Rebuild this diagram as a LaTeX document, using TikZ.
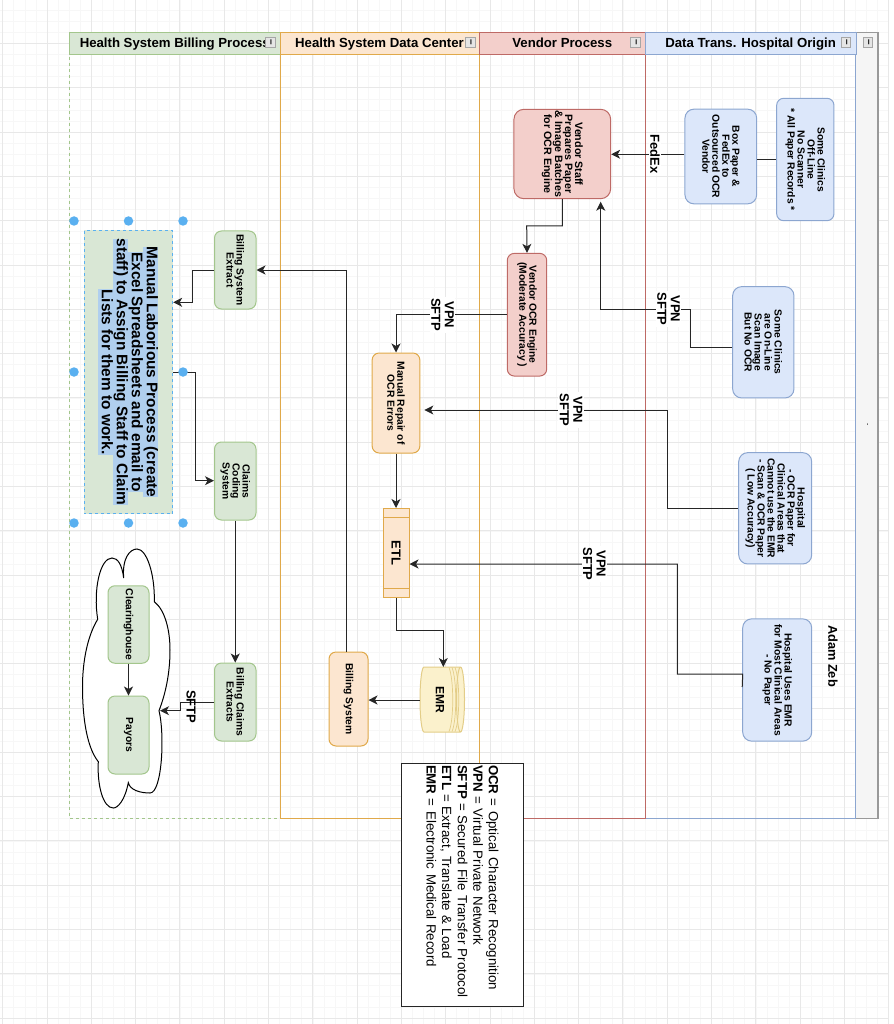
\documentclass[tikz,border=0pt]{standalone}
\usepackage{fontspec}
\setmainfont{Liberation Sans}
\usetikzlibrary{arrows.meta,shapes.geometric}

\definecolor{gfill}{HTML}{D9E7D5}
\definecolor{gline}{HTML}{A3C68C}
\definecolor{ofill}{HTML}{FCE6D0}
\definecolor{oline}{HTML}{E0A94A}
\definecolor{rfill}{HTML}{F3CFCB}
\definecolor{rline}{HTML}{BE6A66}
\definecolor{bfill}{HTML}{DCE7FA}
\definecolor{bline}{HTML}{8CA6D0}
\definecolor{yfill}{HTML}{FBF1CC}
\definecolor{yline}{HTML}{E3CD88}
\definecolor{hlight}{HTML}{B0CFEE}
\definecolor{handle}{HTML}{5AB0F0}

\newcommand{\hlline}[1]{\colorbox{hlight}{\rule[-3.4pt]{0pt}{15pt}#1}}

\tikzset{
  minorgrid/.style={draw=black!3,line width=0.6},
  majorgrid/.style={draw=black!9,line width=1},
  lanehead/.style={fill=#1,minimum height=21.6,text height=11,text depth=2,font=\fontsize{13.2}{13}\selectfont\bfseries,inner sep=0},
  flowbox/.style={draw,rotate=-90,rounded corners=7,line width=1,inner sep=0,align=center,font=\fontsize{10.3}{10}\selectfont\bfseries},
  gbox/.style={flowbox,draw=gline,fill=gfill},
  obox/.style={flowbox,draw=oline,fill=ofill},
  rbox/.style={flowbox,draw=rline,fill=rfill},
  bbox/.style={flowbox,draw=bline,fill=bfill},
  link/.style={draw=black!85,line width=1,-{Stealth[length=9,width=9,inset=2.5]}},
  plainlink/.style={draw=black!85,line width=1},
  lab/.style={rotate=-90,fill=white,inner sep=1.5,align=center,font=\fontsize{13}{13.5}\selectfont\bfseries},
  grip/.style={circle,fill=handle,minimum size=9.5,inner sep=0},
  fold/.style={rotate=-90,draw=black!35,fill=black!10,minimum size=9.5,inner sep=0,font=\fontsize{10}{10}\selectfont\bfseries},
}

\begin{document}
\begin{tikzpicture}[x=1pt,y=-1pt]
\useasboundingbox (0,0) rectangle (893,1024);

% grid
\foreach \i in {0,...,80} \draw[minorgrid] (2.7+\i*11.075,0) -- (2.7+\i*11.075,1024);
\foreach \i in {1,...,92} \draw[minorgrid] (0,-0.8+\i*11.075) -- (888,-0.8+\i*11.075);
\foreach \i in {0,...,20} \draw[majorgrid] (2.7+\i*44.3,0) -- (2.7+\i*44.3,1024);
\foreach \i in {1,...,23} \draw[majorgrid] (0,-0.8+\i*44.3) -- (888,-0.8+\i*44.3);

% lanes
\draw[draw=black!40,fill=black!4,line width=1.5] (855.7,32.7) rectangle (878,818.3);
\draw[gline,dashed,line width=1] (69.5,32.7) rectangle (280,818.3);
\draw[oline,line width=1] (280,54.3) -- (280,818.3) -- (479,818.3) -- (479,54.3);
\draw[rline,line width=1] (479,818.3) -- (645.5,818.3) -- (645.5,54.3);
\draw[bline,line width=1.5] (645.5,818.3) -- (855.7,818.3) -- (855.7,54.3);

\node[lanehead=gfill,draw=gline,minimum width=210.5,name=hbill] at (174.75,43.5) {Health System Billing Process};
\node[lanehead=ofill,draw=oline,minimum width=199,name=hdata] at (379.5,43.5) {Health System Data Center};
\node[lanehead=rfill,draw=rline,minimum width=166.5,name=hvend] at (562.25,43.5) {Vendor Process};
\node[lanehead=bfill,draw=bline,minimum width=210.2,name=htrans] at (750.6,43.5) {Data Trans. Hospital Origin};

% fold marks
\foreach \x/\n in {270/f1,470/f2,635.3/f3,845.7/f4,867.7/f5} \node[fold,name=\n] at (\x,42.3) {\textendash};
\node[rotate=-90,inner sep=0,font=\fontsize{7}{7}\selectfont,name=dash] at (867,425) {-};

% cloud
\draw[fill=white,draw=black,line width=1]
  (123.7,578) .. controls (122,558) and (130,549) .. (137,549)
  .. controls (147,549) and (155,575) .. (154.3,601.7)
  .. controls (165,610) and (170,630) .. (170,650)
  .. controls (170,675) and (165,695) .. (159,710.7)
  .. controls (165,735) and (162,793) .. (150,793)
  .. controls (140,793) and (130,790) .. (128.3,782.7)
  .. controls (125,800) and (118,808) .. (113.3,808)
  .. controls (103,808) and (97,785) .. (98.3,761.7)
  .. controls (85,745) and (82.5,710) .. (82.5,687)
  .. controls (82.5,660) and (88,635) .. (97.7,619.3)
  .. controls (93,590) and (100,558) .. (112,558)
  .. controls (118,558) and (122,565) .. (123.7,578);
\coordinate (cloudin) at (160,710.7);

% billing lane
\node[gbox,name=extract,minimum width=78,minimum height=41.5] at (235.25,270) {Billing System\\Extract};
\node[gbox,name=coding,minimum width=78,minimum height=41.5] at (235.25,481) {Claims\\Coding\\System};
\node[gbox,name=claims,minimum width=78,minimum height=41.5] at (235.25,702) {Billing Claims\\Extracts};
\node[gbox,name=clearing,minimum width=77.5,minimum height=41] at (128.5,624.5) {Clearinghouse};
\node[gbox,name=payors,minimum width=78,minimum height=41] at (128.5,735) {Payors};
\node[rotate=-90,draw=handle,dashed,fill=gfill,line width=0.8,minimum width=283,minimum height=88.7,inner sep=0,align=center,
  font=\fontsize{15.4}{15}\selectfont\bfseries,name=manual] at (128.4,372) {%
  \setlength{\fboxsep}{0pt}\hlline{Manual Laborious Process (create}\\
  \setlength{\fboxsep}{0pt}\hlline{Excel Spreadsheets and email to}\\
  \setlength{\fboxsep}{0pt}\hlline{staff) to Assign Billing Staff to Claim}\\
  \setlength{\fboxsep}{0pt}\hlline{Lists for them to work.}};

% data center lane
\node[obox,name=billsys,minimum width=94,minimum height=39] at (348.5,699) {Billing System};
\node[obox,name=repair,minimum width=100,minimum height=47.7] at (396,403) {Manual Repair of\\OCR Errors};
\node[obox,rounded corners=0,name=etl,minimum width=89,minimum height=26,font=\fontsize{13}{13}\selectfont\bfseries] at (396,553) {ETL};
\node[cylinder,draw=yline,fill=yfill,line width=1,aspect=.3,minimum height=44.5,minimum width=65,inner sep=0,font=\fontsize{12}{12}\selectfont\bfseries,name=emr] at (440,699.5) {\rotatebox{-90}{EMR}\hspace{9pt}};

% vendor lane
\node[rbox,rounded corners=10,name=staff,minimum width=89.4,minimum height=96.7,font=\fontsize{10.7}{10}\selectfont\bfseries] at (562.3,154) {Vendor Staff\\Prepares Paper\\\& Image Batches\\for OCR  Engine};
\node[rbox,name=ocr,minimum width=122.7,minimum height=39.4] at (527,314.7) {Vendor OCR Engine\\(Moderate Accuracy )};

% hospital lane
\node[bbox,rounded corners=9,name=boxpaper,minimum width=94.7,minimum height=71.7] at (720.8,156.5) {Box Paper \&\\FedEx to\\Outsourced OCR\\Vendor};
\node[bbox,name=offline,minimum width=122.4,minimum height=57.3] at (805.3,159.5) {Some Clinics\\Off-Line\\No Scanner\\* All Paper Records *};
\node[bbox,rounded corners=9,name=online,minimum width=111.3,minimum height=61.3] at (763.3,342.3) {Some Clinics\\are On-Line\\Scan Image\\But No OCR};
\node[bbox,rounded corners=9,name=hospocr,minimum width=111.3,minimum height=73] at (775.2,508.3) {Hospital\\- OCR Paper for\\Clinical Areas that\\Cannot use the EMR\\- Scan \& OCR Paper\\( Low Accuracy)};
\node[bbox,rounded corners=9,name=hospemr,minimum width=122.3,minimum height=69] at (777.2,680) {Hospital Uses  EMR\\for Most Clinical Areas\\- No Paper};
\node[rotate=-90,inner sep=0,font=\fontsize{12.8}{13}\selectfont\bfseries,name=adam] at (833,656) {Adam Zeb};

% connections
\draw[plainlink] (offline.south |- 0,159.3) -- (boxpaper.north |- 0,159.3);
\draw[link] (boxpaper.south |- 0,154.3) -- node[lab,pos=.4] {FedEx} (staff.north |- 0,154.3);
\draw[link] (staff.east) -- (562.3,226) -- (526.7,226) -- (ocr.west);
\draw[link,shorten >=2.5] (online.south |- 0,347.7) -- (690,347.7) -- (690,309) -- node[lab,pos=.24] {VPN\\SFTP} (600.7,309) -- (staff.east -| 600.7,0);
\draw[link] (ocr.south) -- node[lab,pos=.58] {VPN\\SFTP} (396,314.7 |- ocr.south) -- (repair.west);
\draw[link,shorten >=4] (hospocr.south) -- (667.3,508.3) -- (667.3,410) -- node[lab,pos=.39] {VPN\\SFTP} (repair.north |- 0,410);
\draw[link] (hospemr.south |- 0,687) -- (742.7,674) -- (677.3,674) -- (677.3,564) -- node[lab,pos=.31] {VPN\\SFTP} (etl.north |- 0,564);
\draw[link] (repair.east) -- (etl.west);
\draw[link] (etl.east) -- (396,630) -- (443.3,630) -- (443.3,667);
\draw[link] (emr.west |- 0,700) -- (billsys.north |- 0,700);
\draw[link] (billsys.west -| 346.3,0) -- (346.3,270) -- (extract.north);
\draw[link] (extract.south) -- (192.7,270) -- (192.7,302.3) -- (manual.north |- 0,302.3);
\draw[link] (manual.north) -- (195,372) -- (195,480.7) -- (coding.south |- 0,480.7);
\draw[link] (coding.east) -- (claims.west);
\draw[link] (clearing.east) -- (payors.west);
\draw[link] (claims.south) -- (180,702) -- (180,710.7) -- (cloudin);
\node[lab,fill=none,name=sftp] at (191,706.7) {SFTP};

% drum rings and etl bars
\foreach \xa in {449,452,455} \draw[yline,line width=0.7] (\xa,667.5) .. controls (\xa+5,680) and (\xa+5,720) .. (\xa,731.5);
\draw[oline] (etl.south |- 0,517.3) -- (etl.north |- 0,517.3);
\draw[oline] (etl.south |- 0,588) -- (etl.north |- 0,588);

% handles
\foreach \x/\y/\n in {74/221/ga,128.5/221/gb,183/221/gc,74/372/gd,183/372/ge,74/523/gf,128.5/523/gg,183/523/gh}
  \node[grip,name=\n] at (\x,\y) {};

% legend
\node[rotate=-90,draw=black!85,fill=white,line width=1,minimum width=243.4,minimum height=121.6,text width=240,inner sep=1.5,align=left,
  font=\fontsize{13.3}{15.6}\selectfont,name=legend] at (462.5,885) {%
  \textbf{OCR} = Optical Character Recognition\\
  \textbf{VPN} = Virtual Private Network\\
  \textbf{SFTP} = Secured File Transfer Protocol\\
  \textbf{ETL} = Extract, Translate \& Load\\
  \textbf{EMR} = Electronic Medical Record};
\end{tikzpicture}
\end{document}
